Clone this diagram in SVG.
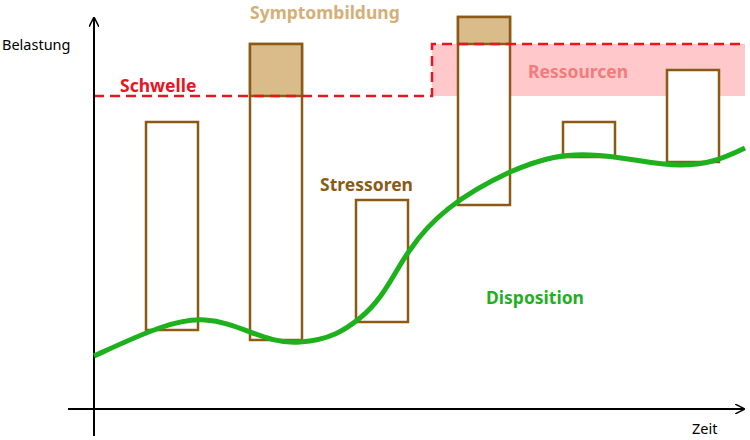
<svg xmlns="http://www.w3.org/2000/svg" width="750" height="440" viewBox="0 0 750 440">
<style>
text{font-family:"Noto Sans",sans-serif}
.lbl{font-size:17.5px;font-weight:bold}
.bar{fill:#fff;stroke:#8B5A14;stroke-width:2.5}
.sym{fill:#D9BC8A;stroke:#8B5A14;stroke-width:2.5}
.ax{stroke:#000;stroke-width:2;fill:none}
</style>
<defs>
<marker id="ar" viewBox="0 0 10 10" refX="9" refY="5" markerWidth="10" markerHeight="10" markerUnits="userSpaceOnUse" orient="auto"><path d="M0,0 L10,5 L0,10" fill="none" stroke="#000" stroke-width="1.5"/></marker>
</defs>
<rect x="432" y="44" width="313" height="52" fill="#FFC8CB"/>
<g id="bars">
<rect class="bar" x="146" y="122" width="52" height="208"/>
<rect class="bar" x="250" y="44" width="52" height="296"/>
<rect class="sym" x="250" y="44" width="52" height="52"/>
<rect class="bar" x="356" y="200" width="52" height="122"/>
<rect class="bar" x="458" y="17" width="52" height="188"/>
<rect class="sym" x="458" y="17" width="52" height="27"/>
<rect class="bar" x="563" y="122" width="52" height="35"/>
<rect class="bar" x="667" y="70" width="52" height="92"/>
</g>
<path d="M94,96 H432 V44 H745" fill="none" stroke="#E8141E" stroke-width="2.5" stroke-dasharray="10,6"/>
<g id="connectors">
<path class="ax" d="M94,436 V18" marker-end="url(#ar)"/>
<path class="ax" d="M68,409 H744" marker-end="url(#ar)"/>
<path d="M94,356 C140,335 175,318 205,320 C240,322 265,345 300,342 C330,340 345,330 360,318 C385,298 395,270 410,250 C430,220 460,195 510,172 C545,157 565,154 590,155 C625,156 650,165 680,165 C705,165 720,160 745,148" fill="none" stroke="#1DB11D" stroke-width="5"/>
</g>
<g id="labels">
<text x="2" y="50" font-size="14.5">Belastung</text>
<text x="692" y="434" font-size="14.5">Zeit</text>
<text class="lbl" x="120" y="92" fill="#E8141E">Schwelle</text>
<text class="lbl" x="250" y="19" fill="#D4B077">Symptombildung</text>
<text class="lbl" x="528" y="78" fill="#F47B7B">Ressourcen</text>
<text class="lbl" x="320" y="191" fill="#8B5A14">Stressoren</text>
<text class="lbl" x="486" y="304" fill="#22B022">Disposition</text>
</g>
</svg>
